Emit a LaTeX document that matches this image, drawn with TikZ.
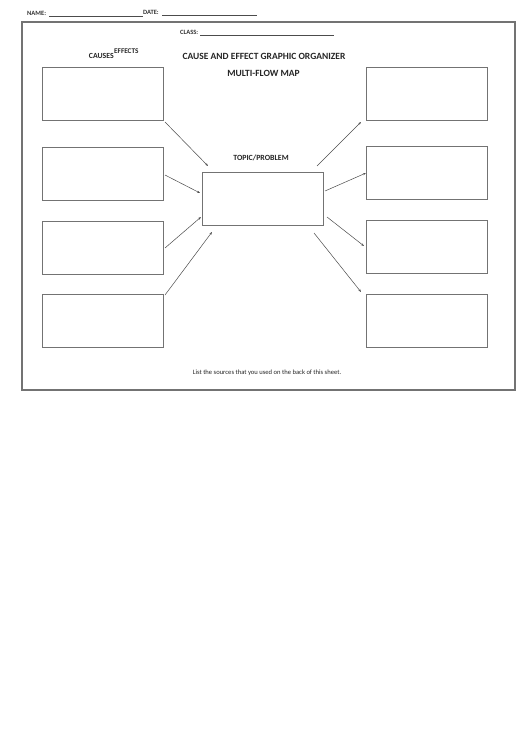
\documentclass[tikz,border=0pt]{standalone}
\usepackage{fontspec}
\setmainfont{Carlito}
\usetikzlibrary{arrows.meta}
\begin{document}
\begin{tikzpicture}[x=1pt,y=-1pt,
  box/.style={draw=black!55,line width=0.9pt,minimum width=121pt,minimum height=53pt,inner sep=0pt},
  conn/.style={draw=black!70,line width=0.5pt,-{Stealth[length=3pt,width=2.2pt]}},
  hdr/.style={font=\fontsize{6.5}{7}\selectfont\bfseries,text=black!80,inner sep=0pt},
  ttl/.style={font=\fontsize{9.5}{11}\selectfont\bfseries,text=black!85,inner sep=0pt},
  ul/.style={draw=black!70,line width=0.5pt}]
\useasboundingbox (0,0) rectangle (530,749);
\fill[white] (0,0) rectangle (530,749);
% frame
\draw[black!55,line width=1.3pt] (22,22) rectangle (515,390);
% header
\node[hdr,anchor=base west] (name) at (27,16) {NAME:};
\coordinate (n1) at (49,16.5); \coordinate (n2) at (143,16.5);
\draw[ul] (n1) -- (n2);
\node[hdr,anchor=base west] (date) at (143,15) {DATE:};
\coordinate (d1) at (162,15.5); \coordinate (d2) at (257,15.5);
\draw[ul] (d1) -- (d2);
\node[hdr,anchor=base west] (class) at (180,35) {CLASS:};
\coordinate (c1) at (200,35.5); \coordinate (c2) at (334,35.5);
\draw[ul] (c1) -- (c2);
% titles
\node[ttl] (t1) at (264,56) {CAUSE AND EFFECT GRAPHIC ORGANIZER};
\node[ttl] (t2) at (263.5,73) {MULTI-FLOW MAP};
\node[font=\fontsize{7.8}{9}\selectfont\bfseries,text=black!85,inner sep=0pt,anchor=base east] (causes) at (114,59) {CAUSES};
\node[font=\fontsize{7.2}{8}\selectfont\bfseries,text=black!85,inner sep=0pt,anchor=base west] (effects) at (114,54) {EFFECTS};
\node[font=\fontsize{7.9}{9}\selectfont\bfseries,text=black!85,inner sep=0pt] (topic) at (261,158) {TOPIC/PROBLEM};
% boxes
\node[box] (L1) at (102.5,94) {};
\node[box] (L2) at (102.5,173.5) {};
\node[box] (L3) at (102.5,247.5) {};
\node[box] (L4) at (102.5,321) {};
\node[box] (R1) at (426.5,93.5) {};
\node[box] (R2) at (426.5,173) {};
\node[box] (R3) at (426.5,247) {};
\node[box] (R4) at (426.5,320.5) {};
\node[box] (C) at (262.5,198.5) {};
% arrow points
\coordinate (a1s) at (165,122); \coordinate (a1e) at (208,166);
\coordinate (a2s) at (165,175); \coordinate (a2e) at (200,193);
\coordinate (a3s) at (165,248); \coordinate (a3e) at (201,217);
\coordinate (a4s) at (165,295); \coordinate (a4e) at (212,232);
\coordinate (b1s) at (317,166); \coordinate (b1e) at (361,122);
\coordinate (b2s) at (325,191); \coordinate (b2e) at (366,173);
\coordinate (b3s) at (327,217); \coordinate (b3e) at (364,246);
\coordinate (b4s) at (314,233); \coordinate (b4e) at (361,292);
\foreach \s/\e in {a1s/a1e,a2s/a2e,a3s/a3e,a4s/a4e,b1s/b1e,b2s/b2e,b3s/b3e,b4s/b4e}
  \draw[conn] (\s) -- (\e);
% footer
\node[font=\fontsize{6.6}{7}\selectfont,text=black!85,inner sep=0pt] (foot) at (267,373) {List the sources that you used on the back of this sheet.};
\end{tikzpicture}
\end{document}
